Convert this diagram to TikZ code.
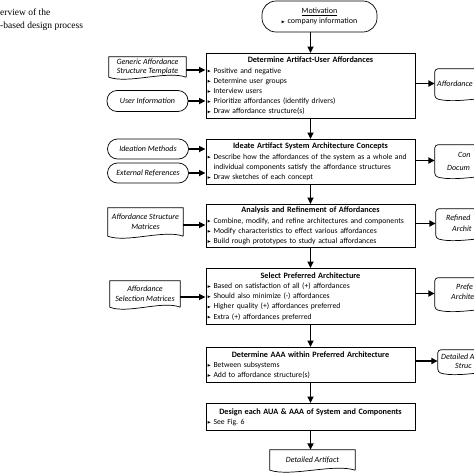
\documentclass[tikz,border=0pt]{standalone}
\usepackage{fontspec}
\setmainfont{Carlito}
\newfontfamily\capfont{Liberation Serif}
\usetikzlibrary{arrows.meta,calc}
\frenchspacing
\hyphenpenalty=10000
\exhyphenpenalty=10000
\newcommand\bul{\makebox[6pt][l]{\tikz[baseline=0pt,x=1pt,y=1pt,sharp corners]\fill (0,0.6)--(3,2)--(0,3.4)--cycle;}}
\newcommand\ind{\hspace*{6pt}}
\newcommand\ttl[1]{\makebox[206pt][c]{\fontsize{8.2}{10.2}\selectfont\bfseries #1}}
\newcommand\docout[2][]{\draw[docline,#1] (#2.south east) -- (#2.north east) -- (#2.north west) -- (#2.south west)
  .. controls ($(#2.south west)!0.5!(#2.south)+(0,-7)$) and ($(#2.south)!0.5!(#2.south east)+(0,7)$) .. (#2.south east);}
\tikzset{
  mainbox/.style={draw, line width=1pt, rectangle, minimum width=209pt, inner xsep=1.5pt, inner ysep=1pt,
    anchor=north, text width=206pt, align=left, font=\fontsize{7.7}{10.2}\selectfont},
  term/.style={draw, line width=0.7pt, rounded corners=10pt, minimum width=81pt, minimum height=21pt,
    inner sep=1pt, font=\fontsize{8}{9.6}\selectfont\itshape, align=center},
  docn/.style={inner sep=1pt, font=\fontsize{8}{9.6}\selectfont\itshape, align=center},
  docline/.style={line width=0.7pt},
  trunc/.style={inner sep=0pt, anchor=west, font=\fontsize{8}{9.6}\selectfont\itshape},
  arr/.style={line width=1.6pt, -{Triangle[length=6.5pt,width=6pt]}},
  captxt/.style={inner sep=0pt, anchor=west, font=\capfont\fontsize{9.5}{11}\selectfont}
}
\begin{document}
\begin{tikzpicture}[x=1pt,y=1pt]
\useasboundingbox (0,0) rectangle (474,-474);
\clip (0,0) rectangle (474,-474);
% caption fragments
\node[captxt] (cap1) at (0,-12) {erview of the};
\node[captxt] (cap2) at (0,-26) {-based design process};
% motivation
\node[term, rounded corners=14pt, minimum width=115pt, minimum height=31pt, font=\fontsize{8}{10.5}\selectfont] (mot) at (319.5,-16.5) {\underline{Motivation}\\\bul company information};
% main boxes
\node[mainbox, minimum height=65pt] (b1) at (310.5,-53) {\ttl{Determine Artifact-User Affordances}\\
\bul Positive and negative\\ \bul Determine user groups\\ \bul Interview users\\ \bul Prioritize affordances (identify drivers)\\ \bul Draw affordance structure(s)};
\node[mainbox, minimum height=45pt] (b2) at (310.5,-139) {\ttl{Ideate Artifact System Architecture Concepts}\\
\bul Describe how the affordances of the system as a whole and\\ \ind individual components satisfy the affordance structures\\ \bul Draw sketches of each concept};
\node[mainbox, minimum height=43pt] (b3) at (310.5,-204) {\ttl{Analysis and Refinement of Affordances}\\
\bul Combine, modify, and refine architectures and components\\ \bul Modify characteristics to effect various affordances\\ \bul Build rough prototypes to study actual affordances};
\node[mainbox, minimum height=56pt] (b4) at (310.5,-268) {\ttl{Select Preferred Architecture}\\
\bul Based on satisfaction of all (+) affordances\\ \bul Should also minimize (-) affordances\\ \bul Higher quality (+) affordances preferred\\ \bul Extra (+) affordances preferred};
\node[mainbox, minimum height=35pt] (b5) at (310.5,-347) {\ttl{Determine AAA within Preferred Architecture}\\
\bul Between subsystems\\ \bul Add to affordance structure(s)};
\node[mainbox, minimum height=27pt] (b6) at (310.5,-403) {\ttl{Design each AUA \& AAA of System and Components}\\
\bul See Fig. 6};
% left inputs
\node[docn, minimum width=77pt, minimum height=20pt] (gen) at (147.5,-67) {Generic Affordance\\Structure Template};
\docout{gen}
\node[term] (usr) at (147.5,-101) {User Information};
\node[term, minimum height=20pt] (ide) at (148,-149) {Ideation Methods};
\node[term, minimum height=20pt] (ext) at (148,-173) {External References};
\node[docn, minimum width=75pt, minimum height=28pt] (asm) at (145.5,-222) {Affordance Structure\\Matrices};
\docout{asm}
\node[docn, minimum width=70pt, minimum height=26pt] (asel) at (145,-294) {Affordance\\Selection Matrices};
\docout{asel}
% right outputs (run off the page)
\node[docn, minimum width=95pt, minimum height=29pt] (r1) at (482.5,-83.5) {};
\docout[rounded corners=3pt]{r1}
\node[trunc] (t1) at (437,-84) {Affordance};
\node[docn, minimum width=95pt, minimum height=31pt] (r2) at (482.5,-160.5) {};
\docout[rounded corners=3pt]{r2}
\node[trunc] (t2a) at (458,-155) {Con};
\node[trunc] (t2b) at (447,-168) {Docum};
\node[docn, minimum width=94pt, minimum height=29pt] (r3) at (483,-223.5) {};
\docout[rounded corners=3pt]{r3}
\node[trunc] (t3a) at (446,-218) {Refined};
\node[trunc] (t3b) at (452,-229) {Archit};
\node[docn, minimum width=95pt, minimum height=31pt] (r4) at (482.5,-293.5) {};
\docout[rounded corners=3pt]{r4}
\node[trunc] (t4a) at (456,-287) {Prefe};
\node[trunc] (t4b) at (451,-297) {Archite};
\node[docn, minimum width=92pt, minimum height=22pt] (r5) at (484,-361) {};
\docout[rounded corners=3pt]{r5}
\node[trunc] (t5a) at (441,-357) {Detailed A};
\node[trunc] (t5b) at (455,-366) {Struc};
% output
\node[docn, minimum width=85pt, minimum height=20pt] (dart) at (312.5,-460) {Detailed Artifact};
\docout{dart}
% connectors
\draw[arr] (b1.north |- mot.south) -- (b1.north);
\draw[arr] (b1.south) -- (b2.north);
\draw[arr] (b2.south) -- (b3.north);
\draw[arr] (b3.south) -- (b4.north);
\draw[arr] (b4.south) -- (b5.north);
\draw[arr] (b5.south) -- (b6.north);
\draw[arr] (b6.south) -- (b6.south |- dart.north);
\draw[arr] ([yshift=-3pt]gen.east) -- ([yshift=-3pt]gen.east -| b1.west);
\draw[arr] (usr.east) -- (usr.east -| b1.west);
\draw[arr] (ide.east) -- (ide.east -| b2.west);
\draw[arr] (ext.east) -- (ext.east -| b2.west);
\draw[arr] ([yshift=-3pt]asm.east) -- ([yshift=-3pt]asm.east -| b3.west);
\draw[arr] ([yshift=-3pt]asel.east) -- ([yshift=-3pt]asel.east -| b4.west);
\draw[arr] (b1.east |- r1.west) -- (r1.west);
\draw[arr] (b2.east |- r2.west) -- (r2.west);
\draw[arr] (b3.east |- r3.west) -- (r3.west);
\draw[arr] (b4.east |- r4.west) -- (r4.west);
\draw[arr] (b5.east |- r5.west) -- (r5.west);
\end{tikzpicture}
\end{document}
